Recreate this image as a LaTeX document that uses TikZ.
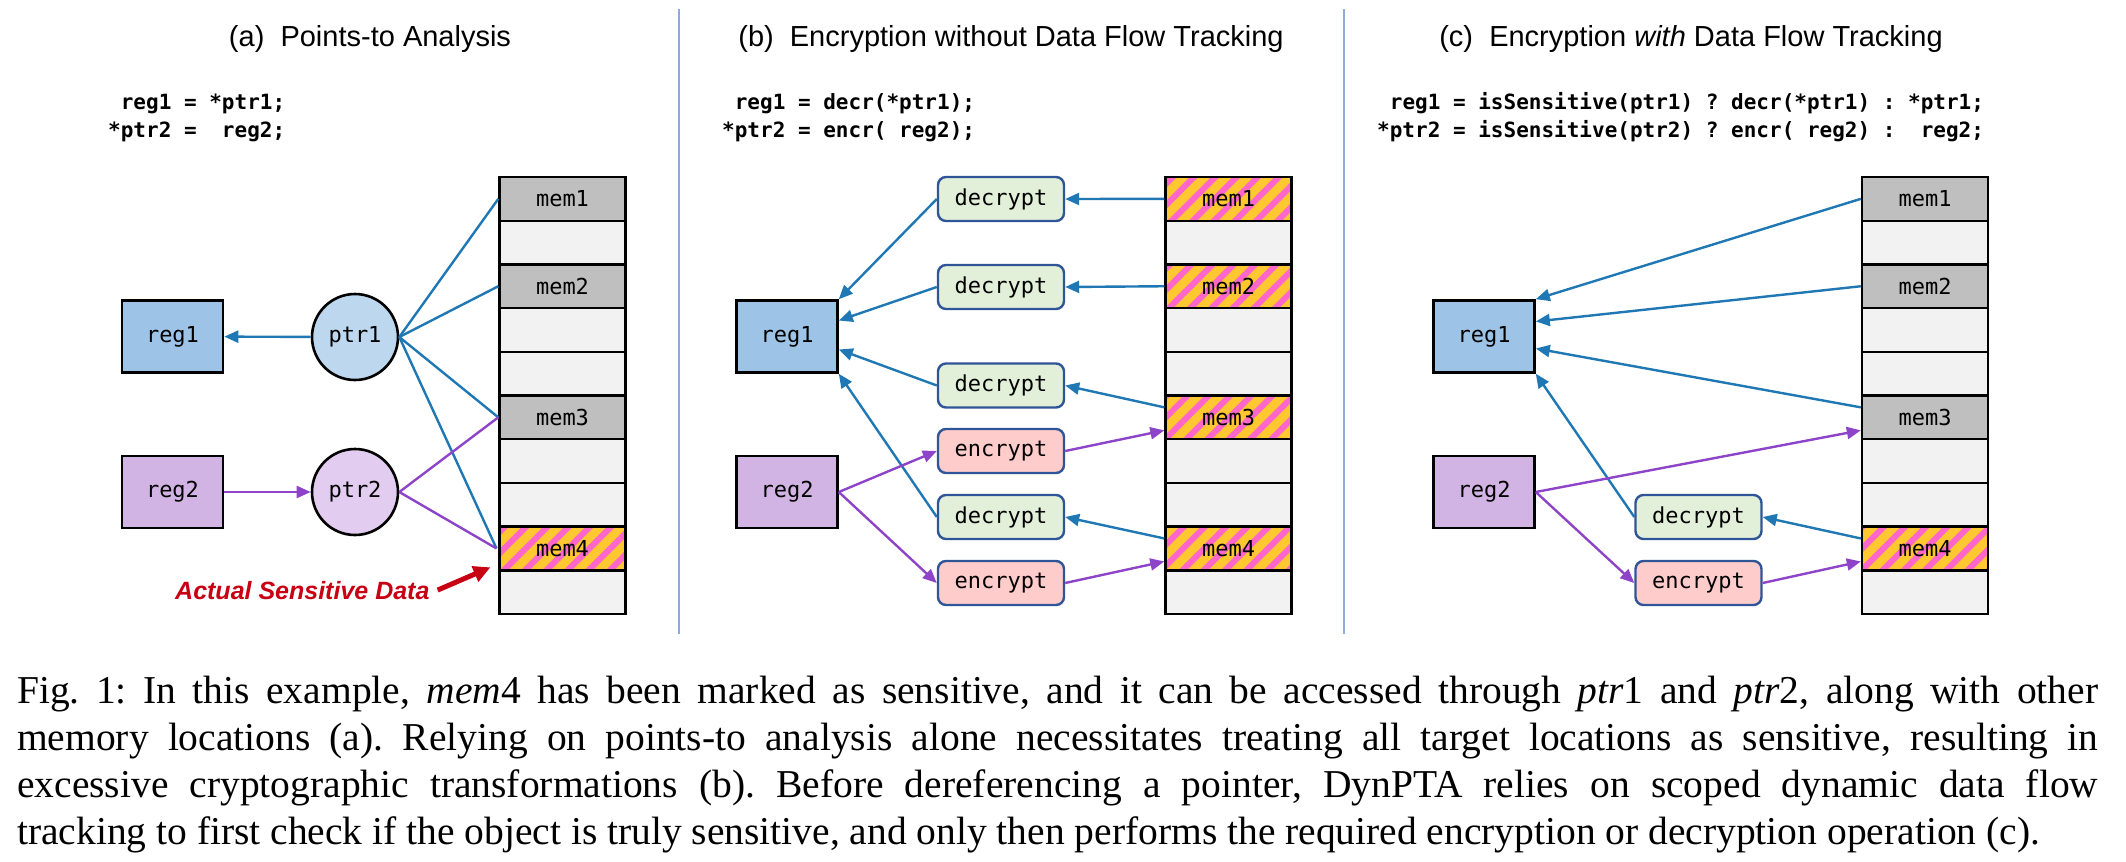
\documentclass[tikz,border=0pt]{standalone}
\usepackage{fontspec}
\setmainfont{Liberation Serif}
\setsansfont{Liberation Sans}
\setmonofont{DejaVu Sans Mono}
\usetikzlibrary{arrows.meta,patterns.meta}

\definecolor{regblue}{HTML}{9DC3E6}
\definecolor{ptrblue}{HTML}{BDD7EE}
\definecolor{regpurple}{HTML}{D2B4E4}
\definecolor{ptrpurple}{HTML}{E2CCF0}
\definecolor{memgraycol}{HTML}{BFBFBF}
\definecolor{cellgraycol}{HTML}{F2F2F2}
\definecolor{hotgold}{HTML}{FFC830}
\definecolor{hotpink}{HTML}{FF66CC}
\definecolor{decgreen}{HTML}{E2F0D9}
\definecolor{encpink}{HTML}{FFCCCC}
\definecolor{cryptline}{HTML}{2F5597}
\definecolor{arrblue}{HTML}{1F78B4}
\definecolor{arrpurple}{HTML}{8E44C8}
\definecolor{dividercol}{HTML}{8FAADC}
\definecolor{sensred}{HTML}{C80014}

\newcommand{\lblfont}{\fontsize{22}{26}\selectfont\ttfamily}
\newcommand{\codefont}{\fontsize{21}{25}\selectfont\ttfamily\bfseries}
\newcommand{\titlefont}{\fontsize{29}{34}\selectfont\sffamily}

\tikzset{
  reg/.style={draw, line width=2.6pt, minimum width=101pt, minimum height=72pt, inner sep=0pt, font=\lblfont},
  ptr/.style={draw, circle, line width=2.6pt, minimum size=86pt, inner sep=0pt, font=\lblfont},
  cell/.style={draw, line width=2.4pt, minimum width=126pt, minimum height=43.7pt, inner sep=0pt, fill=cellgraycol, font=\lblfont},
  memgray/.style={cell, fill=memgraycol},
  memhot/.style={cell, preaction={fill=hotgold}, pattern={Lines[angle=45,distance=15pt,line width=6pt]}, pattern color=hotpink},
  crypt/.style={draw=cryptline, line width=2.4pt, rounded corners=8pt, minimum width=126pt, minimum height=44pt, inner sep=0pt, font=\lblfont},
  dec/.style={crypt, fill=decgreen},
  enc/.style={crypt, fill=encpink},
  blueline/.style={draw=arrblue, line width=2.4pt},
  purpleline/.style={draw=arrpurple, line width=2.4pt},
  bluearrow/.style={blueline, -{Triangle[length=14pt,width=12pt]}},
  purplearrow/.style={purpleline, -{Triangle[length=14pt,width=12pt]}},
  divider/.style={draw=dividercol, line width=2pt},
  paneltitle/.style={anchor=base, inner sep=0pt, font=\titlefont},
  code/.style={anchor=base west, inner sep=0pt, font=\codefont},
  sensitive/.style={anchor=base west, inner sep=2pt, text=sensred, font=\fontsize{25}{30}\selectfont\sffamily\bfseries\itshape},
  sensarrow/.style={draw=sensred, line width=5pt, -{Triangle[length=17pt,width=16pt]}},
  caption/.style={anchor=base west, inner sep=0pt, text width=2081pt, align=justify, font=\fontsize{39.5}{47}\selectfont\frenchspacing}
}

% memory column: x centre, panel prefix, style of mem1-mem3
\newcommand{\memcolumn}[3]{%
  \foreach \r/\nm/\txt/\sty in {0/mem1/mem1/#3,1/e1//cell,2/mem2/mem2/#3,3/e2//cell,4/e3//cell,5/mem3/mem3/#3,6/e4//cell,7/e5//cell,8/mem4/mem4/memhot,9/e6//cell}
    \node[\sty] (#2-\nm) at (#1,{198.85+43.7*\r}) {\txt};
}

\begin{document}
\begin{tikzpicture}[x=1pt,y=-1pt]
  \useasboundingbox (0,0) rectangle (2126,862);

  \draw[divider] (679,9) -- (679,634);
  \draw[divider] (1344,9) -- (1344,634);

  \node[paneltitle] (a-title) at (370,46) {(a)~~Points-to Analysis};
  \node[paneltitle] (b-title) at (1011,46) {(b)~~Encryption without Data Flow Tracking};
  \node[paneltitle] (c-title) at (1691,46) {(c)~~Encryption \textit{with} Data Flow Tracking};

  \node[code] (a-code1) at (108,109) {~reg1 = *ptr1;};
  \node[code] (a-code2) at (108,137) {*ptr2 =~~reg2;};
  \node[code] (b-code1) at (722,109) {~reg1 = decr(*ptr1);};
  \node[code] (b-code2) at (722,137) {*ptr2 = encr(~reg2);};
  \node[code] (c-code1) at (1377,109) {~reg1 = isSensitive(ptr1) ? decr(*ptr1) : *ptr1;};
  \node[code] (c-code2) at (1377,137) {*ptr2 = isSensitive(ptr2) ? encr(~reg2) :~~reg2;};

  % (a) points-to analysis
  \node[reg, fill=regblue] (a-reg1) at (172.5,336.5) {reg1};
  \node[reg, fill=regpurple] (a-reg2) at (172.5,492) {reg2};
  \node[ptr, fill=ptrblue] (ptr1) at (355,337) {ptr1};
  \node[ptr, fill=ptrpurple] (ptr2) at (355,492) {ptr2};
  \memcolumn{562.5}{a}{memgray}
  \draw[bluearrow] (ptr1) -- (a-reg1);
  \draw[purplearrow] (a-reg2) -- (ptr2);
  \foreach \m in {1,...,4} \draw[blueline] (ptr1.east) -- (a-mem\m.west);
  \foreach \m in {3,4} \draw[purpleline] (ptr2.east) -- (a-mem\m.west);
  \node[sensitive] (sens) at (173,599) {Actual Sensitive Data};
  \draw[sensarrow] ([xshift=6pt]sens.east) -- ([shift={(-6pt,6pt)}]a-mem4.south west);

  % (b) encryption without data flow tracking
  \node[reg, fill=regblue] (b-reg1) at (787,336.5) {reg1};
  \node[reg, fill=regpurple] (b-reg2) at (787,492) {reg2};
  \foreach \nm/\y in {dec1/199,dec2/287,dec3/385.5,dec4/517} \node[dec] (b-\nm) at (1001,\y) {decrypt};
  \foreach \nm/\y in {enc1/451,enc2/583} \node[enc] (b-\nm) at (1001,\y) {encrypt};
  \memcolumn{1228.5}{b}{memhot}
  \draw[bluearrow] (b-mem1.west) -- (b-dec1.east);
  \draw[bluearrow] (b-mem2.west) -- (b-dec2.east);
  \draw[bluearrow] ([yshift=10pt]b-mem3.west) -- (b-dec3.east);
  \draw[bluearrow] ([yshift=10pt]b-mem4.west) -- (b-dec4.east);
  \draw[purplearrow] (b-enc1.east) -- ([yshift=-13pt]b-mem3.west);
  \draw[purplearrow] (b-enc2.east) -- ([yshift=-13pt]b-mem4.west);
  \draw[bluearrow] (b-dec1.west) -- (b-reg1.north east);
  \draw[bluearrow] (b-dec2.west) -- ([yshift=16pt]b-reg1.east);
  \draw[bluearrow] (b-dec3.west) -- ([yshift=-13pt]b-reg1.east);
  \draw[bluearrow] (b-dec4.west) -- (b-reg1.south east);
  \draw[purplearrow] (b-reg2.east) -- (b-enc1.west);
  \draw[purplearrow] (b-reg2.east) -- (b-enc2.west);

  % (c) encryption with data flow tracking
  \node[reg, fill=regblue] (c-reg1) at (1484,336.5) {reg1};
  \node[reg, fill=regpurple] (c-reg2) at (1484,492) {reg2};
  \node[dec] (c-dec) at (1698.5,517) {decrypt};
  \node[enc] (c-enc) at (1698.5,583) {encrypt};
  \memcolumn{1925}{c}{memgray}
  \draw[bluearrow] (c-mem1.west) -- (c-reg1.north east);
  \draw[bluearrow] (c-mem2.west) -- ([yshift=15pt]c-reg1.east);
  \draw[bluearrow] ([yshift=10pt]c-mem3.west) -- ([yshift=-12pt]c-reg1.east);
  \draw[bluearrow] (c-dec.west) -- (c-reg1.south east);
  \draw[bluearrow] ([yshift=10pt]c-mem4.west) -- (c-dec.east);
  \draw[purplearrow] (c-reg2.east) -- ([yshift=-13pt]c-mem3.west);
  \draw[purplearrow] (c-reg2.east) -- (c-enc.west);
  \draw[purplearrow] (c-enc.east) -- ([yshift=-13pt]c-mem4.west);

  \node[caption] (caption) at (17,703) {\parfillskip=0pt Fig.~1: In this example, \textit{mem}4 has been marked as sensitive, and it can be accessed through \textit{ptr}1 and \textit{ptr}2, along with other\linebreak memory locations (a). Relying on points-to analysis alone necessitates treating all target locations as sensitive, resulting in\linebreak excessive cryptographic transformations (b). Before dereferencing a pointer, DynPTA relies on scoped dynamic data flow\linebreak tracking to first check if the object is truly sensitive, and only then performs the required encryption or decryption operation (c).};
\end{tikzpicture}
\end{document}
